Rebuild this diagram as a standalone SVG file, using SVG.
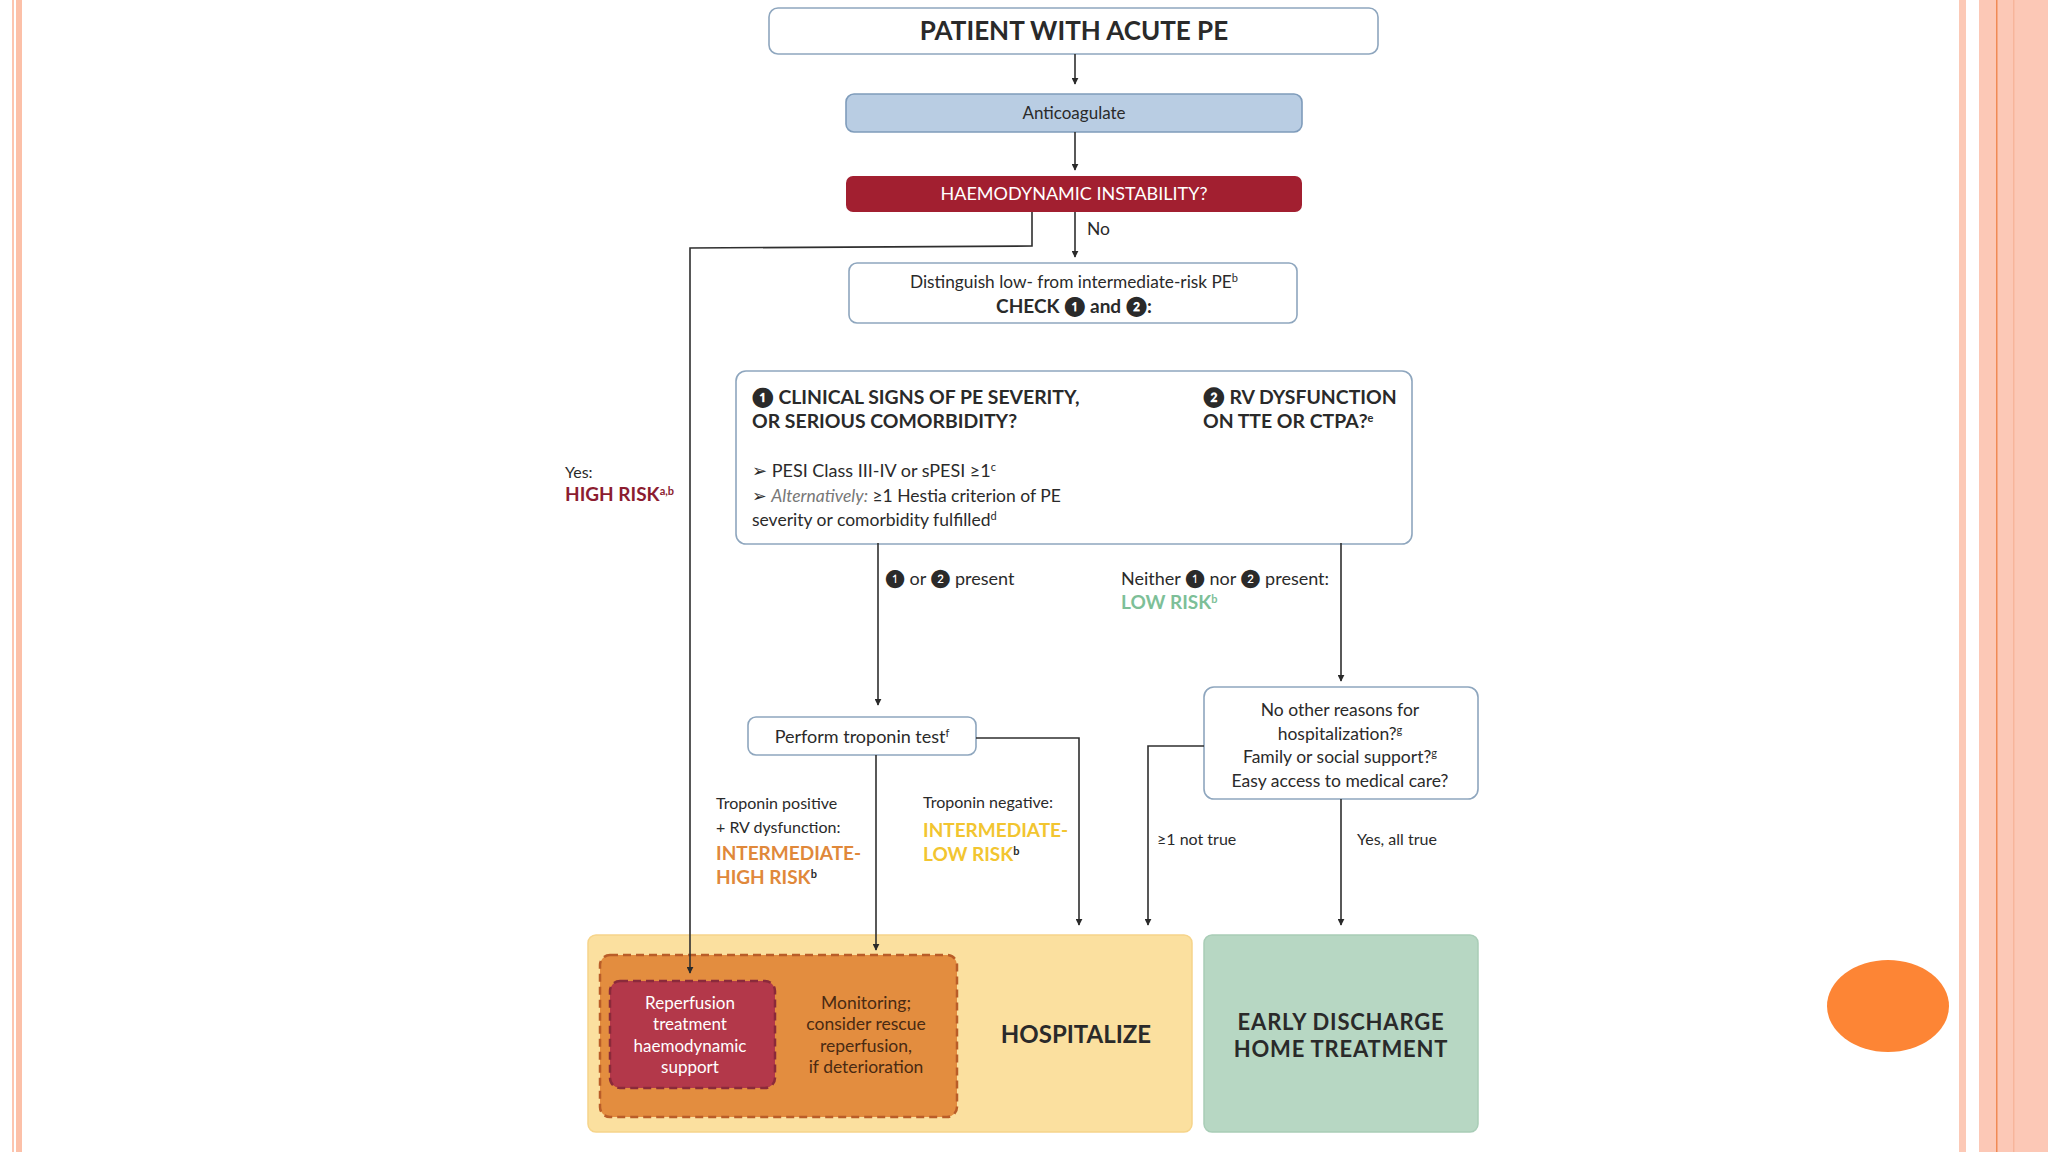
<svg xmlns="http://www.w3.org/2000/svg" width="2048" height="1152" viewBox="0 0 2048 1152">
<defs>
<marker id="ah" viewBox="0 0 10 10" refX="9" refY="5" markerWidth="7" markerHeight="7" markerUnits="userSpaceOnUse" orient="auto">
<path d="M0,0 L10,5 L0,10 z" fill="#2a2a2a"/>
</marker>
<style>
text{font-family:Lato,"Open Sans","Liberation Sans","DejaVu Sans",sans-serif;fill:#2a2a2a}
.c{text-anchor:middle}
.b{font-weight:bold}
.t17{font-size:17.5px}
.t16{font-size:16px}
.t18{font-size:18px}
.box{fill:#ffffff;stroke:#8ea6be;stroke-width:1.6}
.con{fill:none;stroke:#2f2f2f;stroke-width:1.6}
.arr{marker-end:url(#ah)}
.sup{font-size:11px}
.risk{font-size:19px;font-weight:bold}
</style>
</defs>
<rect x="0" y="0" width="2048" height="1152" fill="#ffffff"/>
<g id="page-border">
<rect x="12" y="0" width="2" height="1152" fill="#fcc5b0"/>
<rect x="16" y="0" width="6" height="1152" fill="#fcc0a8"/>
<rect x="1959" y="0" width="7" height="1152" fill="#fcc9b6"/>
<rect x="1979" y="0" width="69" height="1152" fill="#fcc8b6"/>
<rect x="1996" y="0" width="1.5" height="1152" fill="#f08a55"/>
<rect x="2013" y="0" width="1.5" height="1152" fill="#f7b59b"/>
</g>
<ellipse id="orange-dot" cx="1888" cy="1006" rx="61" ry="46" fill="#fd8535"/>

<g id="node-patient">
<rect class="box" x="769" y="8" width="609" height="46" rx="9"/>
<text x="1074" y="40" class="c b" style="font-size:26px">PATIENT WITH ACUTE PE</text>
</g>
<g id="node-anticoagulate">
<rect x="846" y="94" width="456" height="38" rx="8" fill="#b9cde3" stroke="#7f9cbb" stroke-width="1.6"/>
<text x="1074" y="119" class="c" style="font-size:17px">Anticoagulate</text>
</g>
<g id="node-haemodynamic">
<rect x="846" y="176" width="456" height="36" rx="7" fill="#a21f30"/>
<text x="1074" y="200" class="c" style="font-size:18px;fill:#ffffff">HAEMODYNAMIC INSTABILITY?</text>
</g>
<g id="node-distinguish">
<rect class="box" x="849" y="263" width="448" height="60" rx="8"/>
<text x="1074" y="288" class="c" style="font-size:17.3px">Distinguish low- from intermediate-risk PE<tspan class="sup" baseline-shift="super">b</tspan></text>
<text x="1074" y="313" class="c b" style="font-size:19px">CHECK ❶ and ❷:</text>
</g>
<g id="node-check">
<rect class="box" x="736" y="371" width="676" height="173" rx="10"/>
<text x="752" y="404" class="b" style="font-size:19.4px">❶ CLINICAL SIGNS OF PE SEVERITY,</text>
<text x="752" y="428" class="b" style="font-size:19.4px">OR SERIOUS COMORBIDITY?</text>
<text x="1203" y="404" class="b" style="font-size:19.4px">❷ RV DYSFUNCTION</text>
<text x="1203" y="428" class="b" style="font-size:19.4px">ON TTE OR CTPA?<tspan class="sup" baseline-shift="super">e</tspan></text>
<text x="752" y="477" style="font-size:18px">➢ PESI Class III-IV or sPESI ≥1<tspan class="sup" baseline-shift="super">c</tspan></text>
<text x="752" y="502" class="t17">➢ <tspan style="font-style:italic;fill:#777777">Alternatively:</tspan> ≥1 Hestia criterion of PE</text>
<text x="752" y="526" class="t17">severity or comorbidity fulfilled<tspan class="sup" baseline-shift="super">d</tspan></text>
</g>
<g id="node-troponin">
<rect class="box" x="748" y="717" width="228" height="38" rx="8"/>
<text x="862" y="743" class="c" style="font-size:18px">Perform troponin test<tspan class="sup" baseline-shift="super">f</tspan></text>
</g>
<g id="node-other-reasons">
<rect class="box" x="1204" y="687" width="274" height="112" rx="10"/>
<text x="1340" y="716" class="c t17">No other reasons for</text>
<text x="1340" y="740" class="c t17">hospitalization?<tspan class="sup" baseline-shift="super">g</tspan></text>
<text x="1340" y="763" class="c t17">Family or social support?<tspan class="sup" baseline-shift="super">g</tspan></text>
<text x="1340" y="787" class="c t17">Easy access to medical care?</text>
</g>
<g id="node-hospitalize">
<rect x="588" y="935" width="604" height="197" rx="8" fill="#fbe09f" stroke="#f6d48a" stroke-width="1.5"/>
<text x="1076" y="1043" class="c b" style="font-size:24px">HOSPITALIZE</text>
</g>
<g id="node-monitoring">
<rect x="600" y="955" width="357" height="162" rx="10" fill="#e38d3f" stroke="#b95d28" stroke-width="2.5" stroke-dasharray="8,5"/>
<text x="866" y="1009" class="c" style="font-size:17.5px;fill:#4a2a12">Monitoring;</text>
<text x="866" y="1030" class="c" style="font-size:17.5px;fill:#4a2a12">consider rescue</text>
<text x="866" y="1052" class="c" style="font-size:17.5px;fill:#4a2a12">reperfusion,</text>
<text x="866" y="1073" class="c" style="font-size:17.5px;fill:#4a2a12">if deterioration</text>
</g>
<g id="node-reperfusion">
<rect x="610" y="981" width="165" height="107" rx="10" fill="#b3384a" stroke="#8a2a3a" stroke-width="2.5" stroke-dasharray="8,5"/>
<text x="690" y="1009" class="c" style="font-size:17px;fill:#ffffff">Reperfusion</text>
<text x="690" y="1030" class="c" style="font-size:17px;fill:#ffffff">treatment</text>
<text x="690" y="1052" class="c" style="font-size:17px;fill:#ffffff">haemodynamic</text>
<text x="690" y="1073" class="c" style="font-size:17px;fill:#ffffff">support</text>
</g>
<g id="node-discharge">
<rect x="1204" y="935" width="274" height="197" rx="8" fill="#b7d7c3" stroke="#a9cdb7" stroke-width="1.5"/>
<text x="1341" y="1030" class="c b" style="font-size:22px;letter-spacing:0.8px">EARLY DISCHARGE</text>
<text x="1341" y="1057" class="c b" style="font-size:22px;letter-spacing:0.8px">HOME TREATMENT</text>
</g>

<g id="connectors">
<path class="con arr" d="M1075,54 V84"/>
<path class="con arr" d="M1075,132 V170"/>
<path class="con arr" d="M1075,212 V257"/>
<path class="con arr" d="M1032,212 V246 L690,248 V973"/>
<path class="con arr" d="M878,543 V705"/>
<path class="con arr" d="M1341,543 V681"/>
<path class="con arr" d="M976,738 H1079 V925"/>
<path class="con arr" d="M876,755 V950"/>
<path class="con arr" d="M1204,746 H1148 V925"/>
<path class="con arr" d="M1341,799 V925"/>
<text x="1087" y="235" class="t17">No</text>
<text x="565" y="478" class="t16">Yes:</text>
<text x="565" y="501" class="risk" style="fill:#8c1c30">HIGH RISK<tspan class="sup" baseline-shift="super" style="fill:#8c1c30">a,b</tspan></text>
<text x="885" y="585" class="t18">❶ or ❷ present</text>
<text x="1121" y="585" class="t18">Neither ❶ nor ❷ present:</text>
<text x="1121" y="609" class="risk" style="fill:#7dbf98">LOW RISK<tspan class="sup" baseline-shift="super" style="fill:#7dbf98">b</tspan></text>
<text x="716" y="809" class="t16">Troponin positive</text>
<text x="716" y="833" class="t16">+ RV dysfunction:</text>
<text x="716" y="860" class="risk" style="fill:#e0883a">INTERMEDIATE-</text>
<text x="716" y="884" class="risk" style="fill:#e0883a">HIGH RISK<tspan class="sup" baseline-shift="super" style="fill:#2a2a2a">b</tspan></text>
<text x="923" y="808" class="t16">Troponin negative:</text>
<text x="923" y="837" class="risk" style="fill:#f2c530">INTERMEDIATE-</text>
<text x="923" y="861" class="risk" style="fill:#f2c530">LOW RISK<tspan class="sup" baseline-shift="super" style="fill:#2a2a2a">b</tspan></text>
<text x="1157" y="845" class="t16">≥1 not true</text>
<text x="1357" y="845" class="t16">Yes, all true</text>
</g>
</svg>
